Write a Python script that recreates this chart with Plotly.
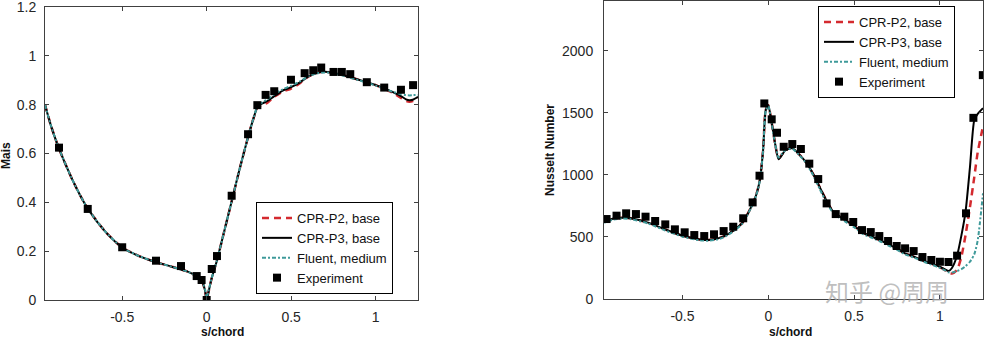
import plotly.graph_objects as go

# ---------------- Left panel: isentropic Mach number ----------------
mach_x = [-0.957, -0.92, -0.874, -0.8, -0.75, -0.7, -0.6, -0.5, -0.4, -0.3, -0.2, -0.12,
          -0.06, -0.03, -0.01, 0.0, 0.01, 0.03, 0.06, 0.1, 0.15, 0.2, 0.25, 0.28, 0.3,
          0.33, 0.36, 0.4, 0.45, 0.5, 0.55, 0.6, 0.65, 0.7, 0.75, 0.8, 0.85, 0.9, 0.95,
          1.0, 1.05, 1.1, 1.15, 1.18, 1.2, 1.22, 1.251]
mach_p3 = [0.80, 0.71, 0.62, 0.50, 0.43, 0.37, 0.28, 0.215, 0.18, 0.155, 0.135, 0.118,
           0.098, 0.08, 0.04, 0.0, 0.03, 0.09, 0.16, 0.27, 0.41, 0.55, 0.68, 0.75, 0.79,
           0.805, 0.815, 0.835, 0.858, 0.872, 0.89, 0.915, 0.93, 0.935, 0.93, 0.922, 0.912,
           0.902, 0.892, 0.88, 0.868, 0.852, 0.835, 0.822, 0.818, 0.82, 0.832]
mach_p2 = [0.80, 0.71, 0.62, 0.50, 0.43, 0.37, 0.28, 0.215, 0.18, 0.155, 0.135, 0.118,
           0.098, 0.08, 0.04, 0.0, 0.03, 0.09, 0.16, 0.27, 0.41, 0.55, 0.68, 0.75, 0.789,
           0.798, 0.808, 0.832, 0.853, 0.866, 0.887, 0.914, 0.93, 0.935, 0.93, 0.922, 0.912,
           0.902, 0.892, 0.88, 0.866, 0.849, 0.828, 0.815, 0.812, 0.815, 0.827]
mach_fl = [0.80, 0.71, 0.62, 0.50, 0.43, 0.37, 0.28, 0.215, 0.18, 0.155, 0.135, 0.118,
           0.098, 0.08, 0.045, 0.01, 0.035, 0.09, 0.16, 0.27, 0.41, 0.55, 0.68, 0.75, 0.792,
           0.81, 0.822, 0.842, 0.863, 0.878, 0.894, 0.915, 0.928, 0.932, 0.928, 0.92, 0.91,
           0.9, 0.89, 0.878, 0.866, 0.853, 0.843, 0.839, 0.838, 0.839, 0.84]
mach_exp_x = [-0.874, -0.704, -0.5, -0.30, -0.152, -0.059, -0.03, 0.0, 0.03, 0.061, 0.148,
              0.245, 0.30, 0.349, 0.40, 0.499, 0.58, 0.631, 0.678, 0.751, 0.80, 0.85, 0.948,
              1.051, 1.15, 1.222]
mach_exp_y = [0.624, 0.373, 0.216, 0.161, 0.139, 0.098, 0.082, 0.0, 0.127, 0.18, 0.427,
              0.679, 0.798, 0.840, 0.855, 0.902, 0.929, 0.941, 0.952, 0.934, 0.934, 0.925,
              0.892, 0.870, 0.861, 0.880]

# ---------------- Right panel: Nusselt number ----------------
nu_x = [-0.957, -0.9, -0.85, -0.8, -0.7, -0.6, -0.5, -0.4, -0.35, -0.3, -0.25, -0.2, -0.15,
        -0.1, -0.07, -0.05, -0.03, -0.015, 0.0, 0.02, 0.04, 0.06, 0.08, 0.1, 0.14, 0.18,
        0.22, 0.26, 0.3, 0.34, 0.38, 0.42, 0.46, 0.5, 0.55, 0.6, 0.65, 0.7, 0.75, 0.8,
        0.85, 0.9, 0.95, 1.0, 1.03, 1.05, 1.07, 1.1, 1.125, 1.15, 1.175, 1.2, 1.22, 1.251]
nu_p3 = [622, 648, 655, 650, 615, 560, 510, 480, 476, 485, 510, 555, 615,
         740, 840, 950, 1200, 1520, 1560, 1420, 1250, 1125, 1160, 1200, 1215, 1165,
         1100, 1010, 900, 790, 700, 660, 625, 590, 535, 505, 475, 440, 405, 365,
         340, 310, 285, 258, 238, 225, 250, 350, 510, 710, 1060, 1440, 1490, 1537]
nu_p2 = [622, 648, 655, 650, 615, 560, 510, 480, 476, 485, 510, 555, 615,
         740, 840, 950, 1200, 1520, 1560, 1420, 1250, 1130, 1165, 1200, 1215, 1165,
         1100, 1010, 900, 790, 700, 660, 625, 590, 535, 505, 475, 440, 405, 365,
         340, 310, 285, 255, 232, 210, 205, 235, 340, 520, 740, 980, 1180, 1390]
nu_fl = [615, 640, 648, 643, 608, 552, 502, 473, 470, 478, 503, 548, 608,
         735, 835, 945, 1195, 1515, 1555, 1415, 1250, 1140, 1170, 1200, 1210, 1160,
         1095, 1000, 885, 775, 690, 650, 612, 578, 525, 495, 465, 430, 395, 357,
         333, 303, 278, 250, 230, 215, 213, 225, 240, 265, 300, 360, 470, 851]
nu_exp_x = [-0.942, -0.884, -0.828, -0.771, -0.715, -0.659, -0.6, -0.544, -0.487, -0.431,
            -0.373, -0.316, -0.26, -0.204, -0.146, -0.091, -0.051, -0.023, 0.02, 0.051,
            0.09, 0.14, 0.19, 0.239, 0.291, 0.34, 0.393, 0.443, 0.495, 0.546, 0.597,
            0.647, 0.698, 0.748, 0.797, 0.847, 0.898, 0.95, 1.0, 1.05, 1.1, 1.152,
            1.195, 1.25]
nu_exp_y = [644, 671, 690, 684, 663, 628, 601, 561, 537, 515, 507, 521, 547, 582, 650,
            778, 993, 1575, 1447, 1339, 1226, 1248, 1208, 1090, 966, 770, 684, 663, 620,
            555, 539, 507, 467, 427, 408, 386, 338, 314, 300, 298, 349, 690, 1459, 1803]

names = ["CPR-P2, base", "CPR-P3, base", "Fluent, medium", "Experiment"]
RED = "#d42a2f"
TEAL = "#3f9a9a"

fig = go.Figure()


def add_panel(xv, p2, p3, fl, ex, ey, xa, ya, legend):
    fig.add_trace(go.Scatter(x=xv, y=p2, mode="lines", name=names[0], xaxis=xa, yaxis=ya,
                             line=dict(color=RED, width=2.5, dash="7px,5px", shape="spline",
                                       smoothing=0.6),
                             legend=legend, showlegend=True))
    fig.add_trace(go.Scatter(x=xv, y=p3, mode="lines", name=names[1], xaxis=xa, yaxis=ya,
                             line=dict(color="black", width=2, shape="spline", smoothing=0.6),
                             legend=legend, showlegend=True))
    fig.add_trace(go.Scatter(x=xv, y=fl, mode="lines", name=names[2], xaxis=xa, yaxis=ya,
                             line=dict(color=TEAL, width=2, dash="4px,2px,2px,2px",
                                       shape="spline", smoothing=0.6),
                             legend=legend, showlegend=True))
    fig.add_trace(go.Scatter(x=ex, y=ey, mode="markers", name=names[3], xaxis=xa, yaxis=ya,
                             marker=dict(symbol="square", size=8, color="black"),
                             legend=legend, showlegend=True))


add_panel(mach_x, mach_p2, mach_p3, mach_fl, mach_exp_x, mach_exp_y, "x", "y", "legend")
add_panel(nu_x, nu_p2, nu_p3, nu_fl, nu_exp_x, nu_exp_y, "x2", "y2", "legend2")

tickfont = dict(family="Liberation Sans, Arial, sans-serif", size=14, color="#262626")
axis_common = dict(showline=True, linecolor="#404040", linewidth=1, mirror="ticks",
                   ticks="inside", ticklen=4, tickcolor="#404040", showgrid=False,
                   zeroline=False, tickfont=tickfont, ticklabeloverflow="allow",
                   automargin=False)

fig.update_layout(
    width=990, height=339,
    margin=dict(l=0, r=0, t=0, b=0, autoexpand=False),
    paper_bgcolor="white", plot_bgcolor="white",
    xaxis=dict(domain=[45 / 990, 418 / 990], range=[-0.957, 1.251], anchor="y",
               tickvals=[-0.5, 0, 0.5, 1], ticktext=["-0.5", "0", "0.5", "1"],
               ticklabelstandoff=4, **axis_common),
    yaxis=dict(domain=[1 - 300 / 339, 1 - 7 / 339], range=[0, 1.2], anchor="x",
               tickvals=[0, 0.2, 0.4, 0.6, 0.8, 1.0, 1.2],
               ticktext=["0", "0.2", "0.4", "0.6", "0.8", "1", "1.2"],
               ticklabelstandoff=5, **axis_common),
    xaxis2=dict(domain=[604 / 990, 983 / 990], range=[-0.957, 1.251], anchor="y2",
                tickvals=[-0.5, 0, 0.5, 1], ticktext=["-0.5", "0", "0.5", "1"],
                ticklabelstandoff=4, **axis_common),
    yaxis2=dict(domain=[1 - 299 / 339, 1 - 1 / 339], range=[0, 2400], anchor="x2",
                tickvals=[0, 500, 1000, 1500, 2000],
                ticktext=["0", "500", "1000", "1500", "2000"],
                ticklabelstandoff=7, **axis_common),
    legend=dict(x=256 / 990, y=1 - 294 / 339, xanchor="left", yanchor="bottom",
                bgcolor="white", bordercolor="black", borderwidth=1,
                font=dict(family="Liberation Sans, Arial, sans-serif", size=13, color="#111"),
                tracegroupgap=0, itemwidth=30),
    legend2=dict(x=818 / 990, y=1 - 6 / 339, xanchor="left", yanchor="top",
                 bgcolor="white", bordercolor="black", borderwidth=1,
                 font=dict(family="Liberation Sans, Arial, sans-serif", size=13, color="#111"),
                 tracegroupgap=0, itemwidth=30),
    showlegend=True,
)

titlefont = dict(family="Liberation Sans, Arial, sans-serif", size=12, color="#111")
annots = [
    dict(text="<b>s/chord</b>", x=222 / 990, y=1 - 332 / 339, xref="paper", yref="paper",
         showarrow=False, font=titlefont, xanchor="center", yanchor="middle"),
    dict(text="<b>s/chord</b>", x=790 / 990, y=1 - 332 / 339, xref="paper", yref="paper",
         showarrow=False, font=titlefont, xanchor="center", yanchor="middle"),
    dict(text="<b>Mais</b>", x=6 / 990, y=1 - 156 / 339, xref="paper", yref="paper",
         showarrow=False, font=titlefont, textangle=-90, xanchor="center", yanchor="middle"),
    dict(text="<b>Nusselt Number</b>", x=550 / 990, y=1 - 150 / 339, xref="paper",
         yref="paper", showarrow=False, font=titlefont, textangle=-90,
         xanchor="center", yanchor="middle"),
    dict(text="知乎 @周周", x=887 / 990, y=1 - 290 / 339, xref="paper", yref="paper",
         showarrow=False, xanchor="center", yanchor="middle", borderpad=0,
         font=dict(family="Noto Sans CJK SC", size=24, color="rgba(170,170,170,0.75)")),
]
fig.update_layout(annotations=annots)

fig.write_html("out.html")
